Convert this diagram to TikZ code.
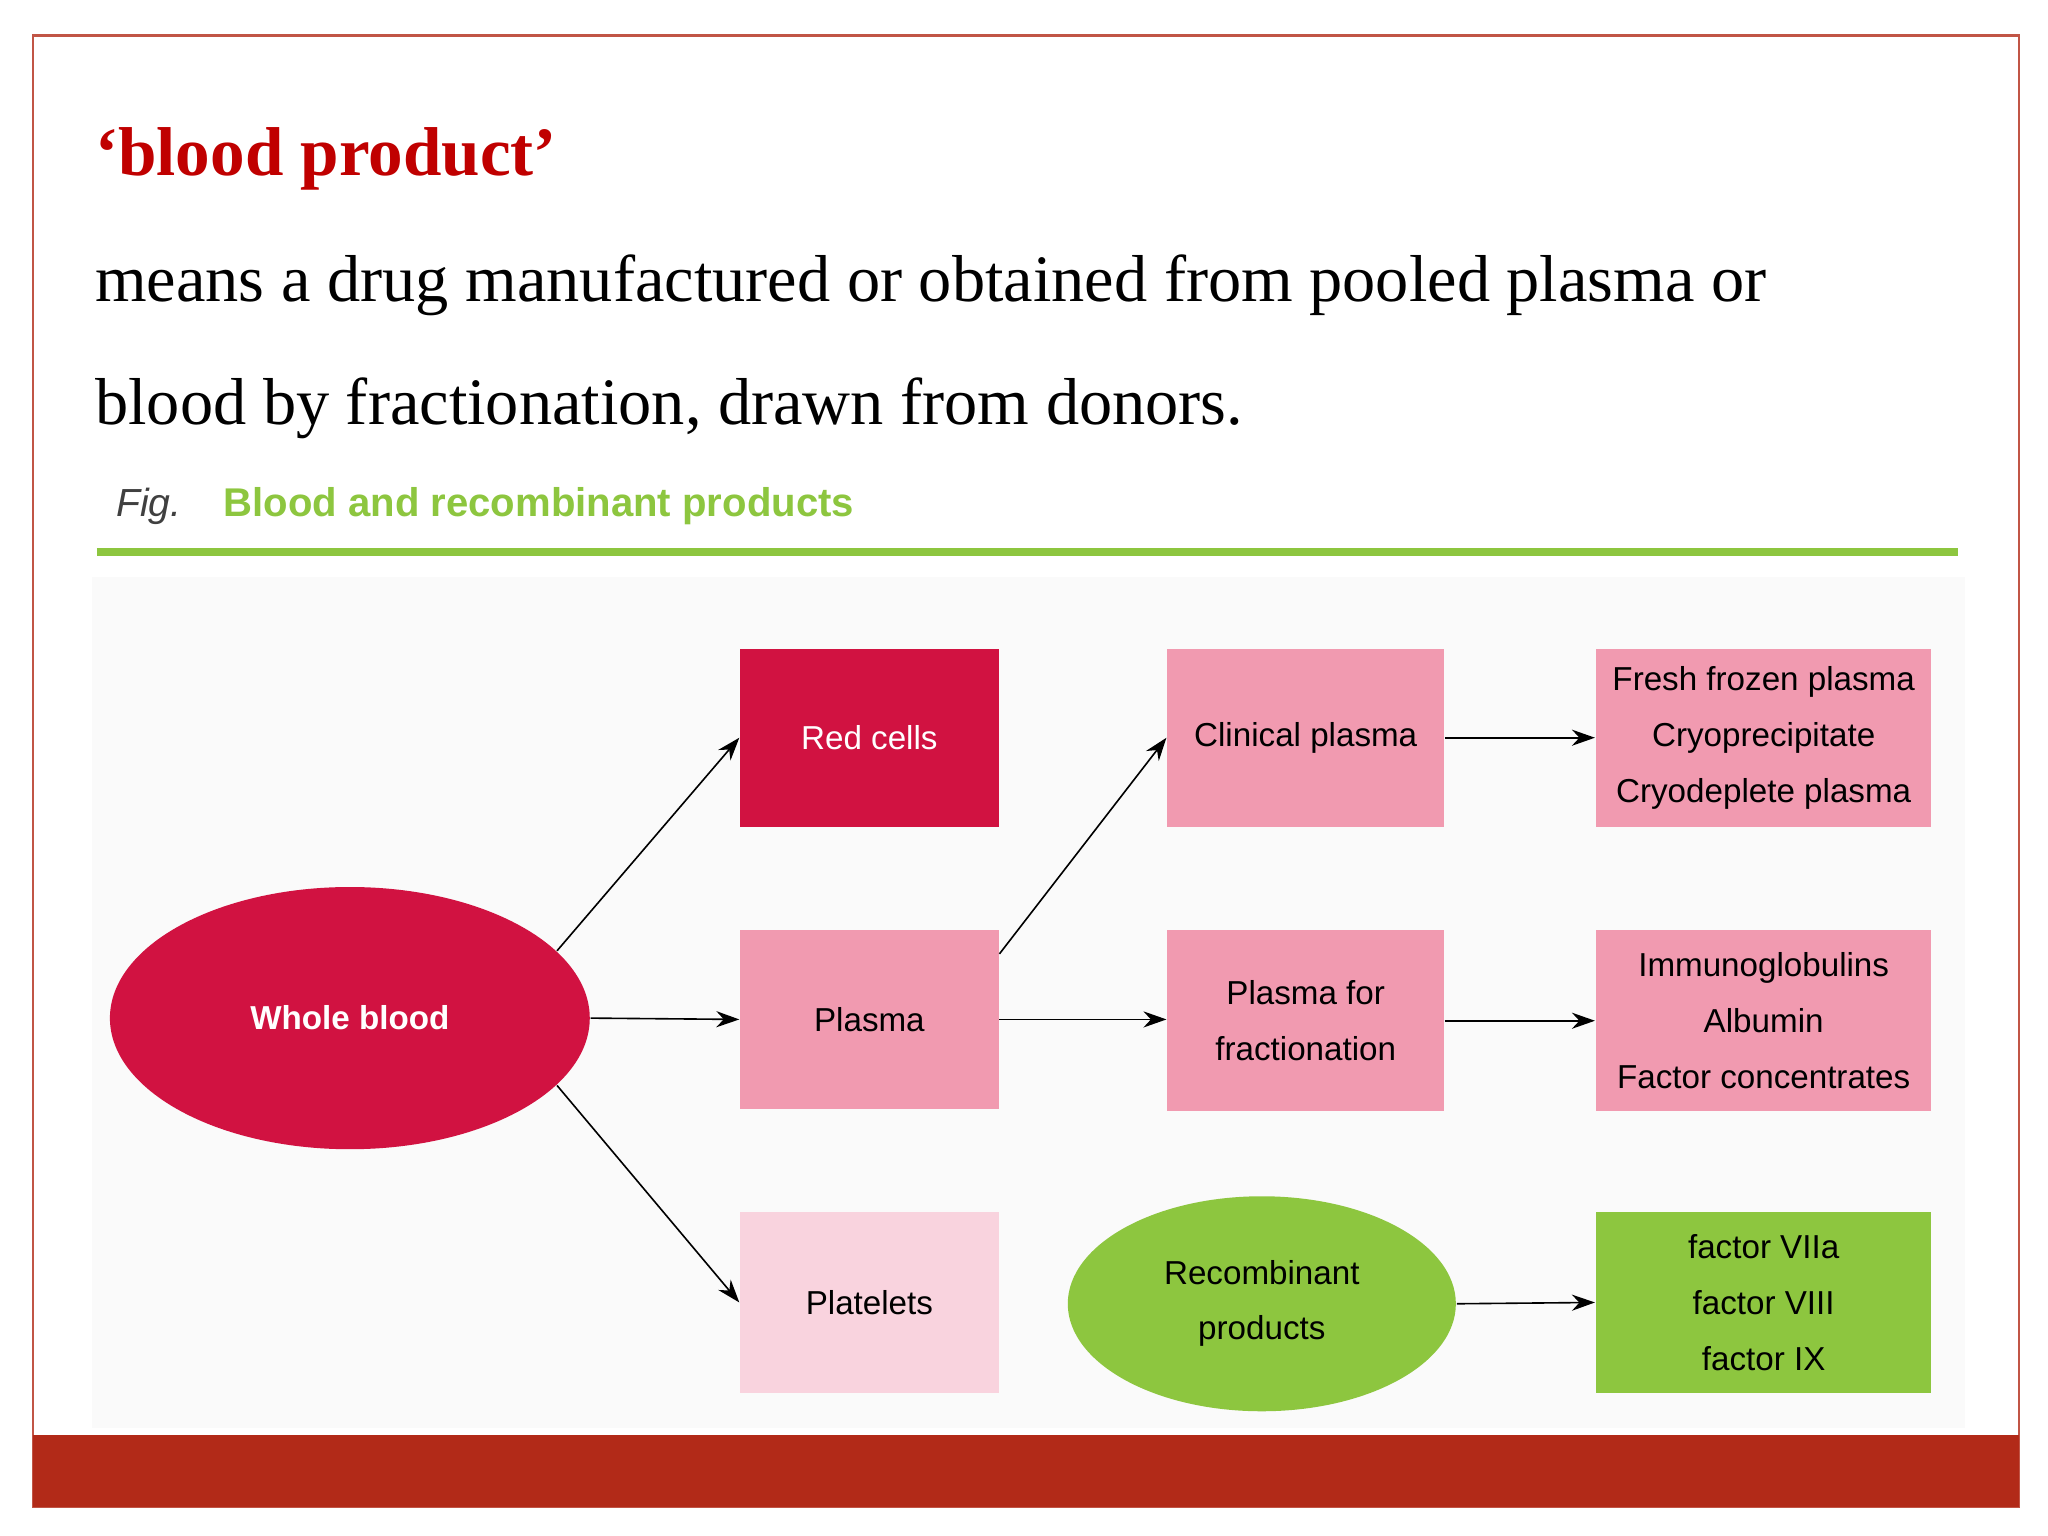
\documentclass[tikz,border=0pt]{standalone}
\usepackage{fontspec}
\setmainfont{Liberation Serif}
\newfontfamily\dsans{Liberation Sans}
\usetikzlibrary{shapes.geometric,arrows.meta}
\definecolor{crim}{HTML}{D11241}
\definecolor{pinkb}{HTML}{F19AB0}
\definecolor{lpink}{HTML}{F9D3DE}
\definecolor{grn}{HTML}{8DC63F}
\definecolor{dred}{HTML}{B22A18}
\definecolor{ttl}{HTML}{C00000}
\tikzset{
 box/.style={rectangle,inner sep=0,minimum width=1.97cm,minimum height=1.36cm,align=center,font=\dsans\fontsize{7.2}{12}\selectfont},
 rbox/.style={rectangle,inner sep=0,minimum width=2.56cm,minimum height=1.36cm,align=center,font=\dsans\fontsize{7.2}{12.2}\selectfont},
 arr/.style={-{Stealth[length=5pt,width=3.5pt]},line width=0.35pt,black},
}
\begin{document}
\begin{tikzpicture}[x=0.01cm,y=-0.01cm]
\useasboundingbox (0,0) rectangle (1563,1172);
\fill[white] (0,0) rectangle (1563,1172);
\draw[dred!80,line width=0.5pt] (25,27) rectangle (1541,1150);
\fill[dred] (25,1095) rectangle (1541,1150);
\node[anchor=base west,inner sep=0,text=ttl,font=\bfseries\fontsize{15}{18}\selectfont] (t1) at (72,134) {‘blood product’};
\node[anchor=base west,inner sep=0,font=\fontsize{14.4}{18}\selectfont] (t2) at (72,230) {means a drug manufactured or obtained from pooled plasma or};
\node[anchor=base west,inner sep=0,font=\fontsize{14.4}{18}\selectfont] (t3) at (72,324) {blood by fractionation, drawn from donors.};
\node[anchor=base west,inner sep=0,text=black!75,font=\dsans\itshape\fontsize{8.5}{10}\selectfont] (fig) at (88,394) {Fig.};
\node[anchor=base west,inner sep=0,text=grn,font=\dsans\bfseries\fontsize{8.7}{10}\selectfont] (ft) at (170,394) {Blood and recombinant products};
\draw[grn,line width=6pt*0.285] (74,421) -- (1494,421);
\fill[black!2] (70,440) rectangle (1500,1090);
\node[ellipse,fill=crim,minimum width=3.66cm,minimum height=2cm,inner sep=0,text=white,font=\dsans\bfseries\fontsize{7.2}{10}\selectfont] (wb) at (267,777) {Whole blood};
\node[box,fill=crim,text=white] (rc) at (663.5,563) {Red cells};
\node[box,fill=pinkb] (pl) at (663.5,778) {Plasma};
\node[box,fill=lpink,minimum height=1.38cm] (pt) at (663.5,994) {Platelets};
\node[box,fill=pinkb,minimum width=2.11cm] (cp) at (996.5,563) {Clinical plasma};
\node[box,fill=pinkb,minimum width=2.11cm,minimum height=1.38cm] (pf) at (996.5,779) {Plasma for\\fractionation};
\node[ellipse,fill=grn,minimum width=2.96cm,minimum height=1.64cm,inner sep=0,align=center,font=\dsans\fontsize{7.2}{12}\selectfont] (rp) at (963,995) {Recombinant\\products};
\node[rbox,fill=pinkb] (r1) at (1346,563) {Fresh frozen plasma\\Cryoprecipitate\\Cryodeplete plasma};
\node[rbox,fill=pinkb,minimum height=1.38cm] (r2) at (1346,779) {Immunoglobulins\\Albumin\\Factor concentrates};
\node[rbox,fill=grn,minimum height=1.38cm] (r3) at (1346,994) {factor VIIa\\factor VIII\\factor IX};
\draw[arr] (wb.18) -- (rc.west);
\draw[arr] (wb.east) -- (pl.west);
\draw[arr] (wb.-18) -- (pt.west);
\draw[arr] ([yshift=0.5cm]pl.east) -- (cp.west);
\draw[arr] (pl.east) -- (pl.east -| pf.west);
\draw[arr] (cp.east) -- (r1.west);
\draw[arr] (pf.east) -- (r2.west);
\draw[arr] (rp.east) -- (r3.west);
\end{tikzpicture}
\end{document}
